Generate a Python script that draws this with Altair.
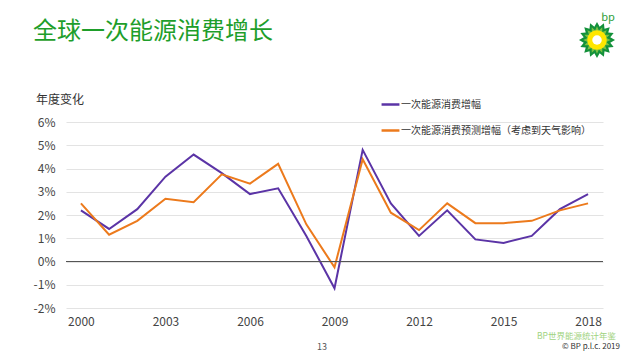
import math
import altair as alt
import pandas as pd

years = list(range(2000, 2019))
actual = [2.2, 1.4, 2.25, 3.65, 4.6, 3.8, 2.9, 3.15, 1.1, -1.15, 4.8, 2.5, 1.1, 2.2, 0.95, 0.8, 1.1, 2.25, 2.9]
forecast = [2.5, 1.15, 1.75, 2.7, 2.55, 3.75, 3.35, 4.2, 1.6, -0.25, 4.4, 2.1, 1.35, 2.5, 1.65, 1.65, 1.75, 2.2, 2.5]
series_names = ["一次能源消费增幅", "一次能源消费预测增幅（考虑到天气影响）"]
series_colors = ["#5b34a6", "#ec7a1c"]
y_ticks = [-2, -1, 0, 1, 2, 3, 4, 5, 6]
x_ticks = [2000, 2003, 2006, 2009, 2012, 2015, 2018]

FONT = "Noto Sans CJK SC"

df = pd.DataFrame(
    {"year": years * 2,
     "value": actual + forecast,
     "series": [series_names[0]] * len(years) + [series_names[1]] * len(years)}
)

W, H = 537, 186

y_scale = alt.Scale(domain=[-2, 6], nice=False)
y_axis = alt.Axis(values=y_ticks, labelExpr="datum.value + '%'", grid=True, tickCount=9,
                  labelOverlap=False, gridColor="#e3e3e3", gridWidth=1, domain=False, ticks=False,
                  labelFont=FONT, labelFontSize=12, labelColor="#444444",
                  labelPadding=11, title=None)

lines = alt.Chart(df).mark_line(strokeWidth=2).encode(
    x=alt.X("year:Q", scale=alt.Scale(domain=[1999.47, 2018.53], nice=False, zero=False),
            axis=alt.Axis(values=x_ticks, format="d", grid=False, domain=False, ticks=False,
                          labelOverlap=False,
                          labelFont=FONT, labelFontSize=12, labelColor="#444444",
                          labelPadding=8, title=None)),
    y=alt.Y("value:Q", scale=y_scale, axis=y_axis),
    color=alt.Color("series:N", scale=alt.Scale(domain=series_names, range=series_colors),
                    legend=alt.Legend(orient="none", legendX=314, legendY=-28, title=None,
                                      symbolType="stroke", symbolSize=320, symbolStrokeWidth=2.5,
                                      labelFont=FONT, labelFontSize=10, labelColor="#333333",
                                      labelLimit=0, rowPadding=10, labelOffset=0)),
)

zero = alt.Chart(pd.DataFrame({"value": [0]})).mark_rule(color="#555555", strokeWidth=1).encode(
    y=alt.Y("value:Q", scale=y_scale, axis=y_axis))

def txt(text, x, y, size, color, align="left", baseline="middle", weight="normal"):
    return alt.Chart(pd.DataFrame({"t": [text]})).mark_text(
        align=align, baseline=baseline, font=FONT, fontSize=size, color=color, fontWeight=weight
    ).encode(text="t:N", x=alt.value(x), y=alt.value(y))

OX, OY = 66, 122
title = txt("全球一次能源消费增长", 33 - OX, 32 - OY, 24, "#1e9e2a")
ytitle = txt("年度变化", 36 - OX, 100 - OY, 12, "#333333")
src = txt("BP世界能源统计年鉴", 537 - OX, 336 - OY, 8.5, "#9fd37f")
page = txt("13", 322 - OX, 347 - OY, 9, "#555555", align="center")
copy = txt("© BP p.l.c. 2019", 620 - OX, 347 - OY, 8, "#333333", align="right")
bp = txt("bp", 608 - OX, 18 - OY, 11, "#2f9e3a", align="center")

# BP helios-like logo
def star_path(n, r_in):
    pts = []
    for i in range(2 * n):
        a = math.pi * i / n - math.pi / 2
        r = 1 if i % 2 == 0 else r_in
        pts.append(f"{r*math.cos(a):.3f},{r*math.sin(a):.3f}")
    return "M" + "L".join(pts) + "Z"

logo_df = pd.DataFrame({"k": [0]})
cx, cy = 597 - OX, 40 - OY
logo = alt.layer(
    alt.Chart(logo_df).mark_point(shape=star_path(16, 0.75), filled=True, color="#13913a", size=1300, opacity=1).encode(x=alt.value(cx), y=alt.value(cy)),
    alt.Chart(logo_df).mark_point(shape=star_path(16, 0.7), filled=True, color="#7cc242", size=750, opacity=1).encode(x=alt.value(cx), y=alt.value(cy)),
    alt.Chart(logo_df).mark_point(shape="circle", filled=True, color="#ffe600", size=380, opacity=1).encode(x=alt.value(cx), y=alt.value(cy)),
    alt.Chart(logo_df).mark_point(shape="circle", filled=True, color="#ffffff", size=90, opacity=1).encode(x=alt.value(cx), y=alt.value(cy)),
)

chart = alt.layer(lines, zero, title, ytitle, src, page, copy, bp, logo).properties(
    width=W, height=H,
    background="white",
    autosize=alt.AutoSizeParams(type="none"),
    padding={"left": 58, "top": 114, "right": 624 - 58 - W, "bottom": 344 - 114 - H},
).configure_view(stroke=None, strokeWidth=0)

chart.save("out.html", embed_options={"renderer": "svg", "actions": False})
